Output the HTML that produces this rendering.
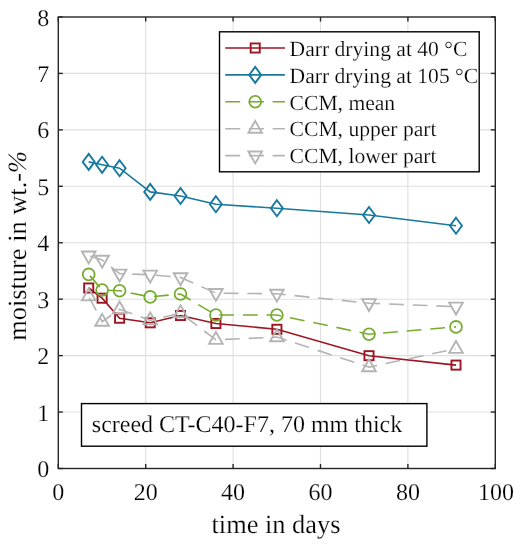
<!DOCTYPE html>
<html><head><meta charset="utf-8"><style>
html,body{margin:0;padding:0;background:#fff;}
svg{display:block;text-rendering:geometricPrecision;will-change:transform;}
.t{font-family:"Liberation Serif",serif;font-size:24px;fill:#000;stroke:#fff;stroke-width:0.2px;}
.l{font-family:"Liberation Serif",serif;font-size:26.4px;fill:#000;stroke:#fff;stroke-width:0.2px;}
.g{font-family:"Liberation Serif",serif;font-size:21.6px;fill:#000;stroke:#fff;stroke-width:0.2px;}
</style></head><body>
<svg width="524" height="550" viewBox="0 0 524 550">
<rect x="0" y="0" width="524" height="550" fill="#fff"/>
<line x1="145.70" y1="17.0" x2="145.70" y2="468.5" stroke="#DFDFDF" stroke-width="1.1"/>
<line x1="233.10" y1="17.0" x2="233.10" y2="468.5" stroke="#DFDFDF" stroke-width="1.1"/>
<line x1="320.50" y1="17.0" x2="320.50" y2="468.5" stroke="#DFDFDF" stroke-width="1.1"/>
<line x1="407.90" y1="17.0" x2="407.90" y2="468.5" stroke="#DFDFDF" stroke-width="1.1"/>
<line x1="58.3" y1="412.06" x2="495.3" y2="412.06" stroke="#DFDFDF" stroke-width="1.1"/>
<line x1="58.3" y1="355.62" x2="495.3" y2="355.62" stroke="#DFDFDF" stroke-width="1.1"/>
<line x1="58.3" y1="299.18" x2="495.3" y2="299.18" stroke="#DFDFDF" stroke-width="1.1"/>
<line x1="58.3" y1="242.74" x2="495.3" y2="242.74" stroke="#DFDFDF" stroke-width="1.1"/>
<line x1="58.3" y1="186.30" x2="495.3" y2="186.30" stroke="#DFDFDF" stroke-width="1.1"/>
<line x1="58.3" y1="129.86" x2="495.3" y2="129.86" stroke="#DFDFDF" stroke-width="1.1"/>
<line x1="58.3" y1="73.42" x2="495.3" y2="73.42" stroke="#DFDFDF" stroke-width="1.1"/>
<polyline points="88.70,288.00 102.10,298.20 119.60,318.20 150.20,322.80 180.50,315.50 215.90,323.50 276.90,329.30 369.00,355.70 456.00,365.10" fill="none" stroke="#9C1522" stroke-width="1.6"/>
<rect x="84.15" y="283.45" width="9.1" height="9.1" fill="none" stroke="#9C1522" stroke-width="1.9"/>
<rect x="97.55" y="293.65" width="9.1" height="9.1" fill="none" stroke="#9C1522" stroke-width="1.9"/>
<rect x="115.05" y="313.65" width="9.1" height="9.1" fill="none" stroke="#9C1522" stroke-width="1.9"/>
<rect x="145.65" y="318.25" width="9.1" height="9.1" fill="none" stroke="#9C1522" stroke-width="1.9"/>
<rect x="175.95" y="310.95" width="9.1" height="9.1" fill="none" stroke="#9C1522" stroke-width="1.9"/>
<rect x="211.35" y="318.95" width="9.1" height="9.1" fill="none" stroke="#9C1522" stroke-width="1.9"/>
<rect x="272.35" y="324.75" width="9.1" height="9.1" fill="none" stroke="#9C1522" stroke-width="1.9"/>
<rect x="364.45" y="351.15" width="9.1" height="9.1" fill="none" stroke="#9C1522" stroke-width="1.9"/>
<rect x="451.45" y="360.55" width="9.1" height="9.1" fill="none" stroke="#9C1522" stroke-width="1.9"/>
<polyline points="88.70,161.90 102.10,164.80 119.60,168.20 150.20,191.90 180.50,196.00 215.90,204.20 276.90,208.20 369.00,215.00 456.00,225.70" fill="none" stroke="#18789F" stroke-width="1.6"/>
<path d="M88.70,153.90L94.70,161.90L88.70,169.90L82.70,161.90Z" fill="none" stroke="#18789F" stroke-width="1.9"/>
<path d="M102.10,156.80L108.10,164.80L102.10,172.80L96.10,164.80Z" fill="none" stroke="#18789F" stroke-width="1.9"/>
<path d="M119.60,160.20L125.60,168.20L119.60,176.20L113.60,168.20Z" fill="none" stroke="#18789F" stroke-width="1.9"/>
<path d="M150.20,183.90L156.20,191.90L150.20,199.90L144.20,191.90Z" fill="none" stroke="#18789F" stroke-width="1.9"/>
<path d="M180.50,188.00L186.50,196.00L180.50,204.00L174.50,196.00Z" fill="none" stroke="#18789F" stroke-width="1.9"/>
<path d="M215.90,196.20L221.90,204.20L215.90,212.20L209.90,204.20Z" fill="none" stroke="#18789F" stroke-width="1.9"/>
<path d="M276.90,200.20L282.90,208.20L276.90,216.20L270.90,208.20Z" fill="none" stroke="#18789F" stroke-width="1.9"/>
<path d="M369.00,207.00L375.00,215.00L369.00,223.00L363.00,215.00Z" fill="none" stroke="#18789F" stroke-width="1.9"/>
<path d="M456.00,217.70L462.00,225.70L456.00,233.70L450.00,225.70Z" fill="none" stroke="#18789F" stroke-width="1.9"/>
<polyline points="88.70,274.40 102.10,290.00 119.60,290.80 150.20,296.90 180.50,294.00 215.90,315.00 276.90,315.00 369.00,334.20 456.00,326.90" fill="none" stroke="#77AC30" stroke-width="1.6" stroke-dasharray="14.8 8.9" stroke-dashoffset="21.73"/>
<circle cx="88.70" cy="274.40" r="5.9" fill="none" stroke="#77AC30" stroke-width="1.8"/>
<circle cx="102.10" cy="290.00" r="5.9" fill="none" stroke="#77AC30" stroke-width="1.8"/>
<circle cx="119.60" cy="290.80" r="5.9" fill="none" stroke="#77AC30" stroke-width="1.8"/>
<circle cx="150.20" cy="296.90" r="5.9" fill="none" stroke="#77AC30" stroke-width="1.8"/>
<circle cx="180.50" cy="294.00" r="5.9" fill="none" stroke="#77AC30" stroke-width="1.8"/>
<circle cx="215.90" cy="315.00" r="5.9" fill="none" stroke="#77AC30" stroke-width="1.8"/>
<circle cx="276.90" cy="315.00" r="5.9" fill="none" stroke="#77AC30" stroke-width="1.8"/>
<circle cx="369.00" cy="334.20" r="5.9" fill="none" stroke="#77AC30" stroke-width="1.8"/>
<circle cx="456.00" cy="326.90" r="5.9" fill="none" stroke="#77AC30" stroke-width="1.8"/>
<polyline points="88.70,296.30 102.10,321.70 119.60,309.30 150.20,320.30 180.50,313.10 215.90,339.80 276.90,337.10 369.00,367.10 456.00,348.80" fill="none" stroke="#B4B4B4" stroke-width="1.6" stroke-dasharray="14.8 8.9" stroke-dashoffset="22.33"/>
<path d="M88.70,288.50L95.50,300.40L81.90,300.40Z" fill="none" stroke="#B4B4B4" stroke-width="1.9" stroke-linejoin="miter"/>
<path d="M102.10,313.90L108.90,325.80L95.30,325.80Z" fill="none" stroke="#B4B4B4" stroke-width="1.9" stroke-linejoin="miter"/>
<path d="M119.60,301.50L126.40,313.40L112.80,313.40Z" fill="none" stroke="#B4B4B4" stroke-width="1.9" stroke-linejoin="miter"/>
<path d="M150.20,312.50L157.00,324.40L143.40,324.40Z" fill="none" stroke="#B4B4B4" stroke-width="1.9" stroke-linejoin="miter"/>
<path d="M180.50,305.30L187.30,317.20L173.70,317.20Z" fill="none" stroke="#B4B4B4" stroke-width="1.9" stroke-linejoin="miter"/>
<path d="M215.90,332.00L222.70,343.90L209.10,343.90Z" fill="none" stroke="#B4B4B4" stroke-width="1.9" stroke-linejoin="miter"/>
<path d="M276.90,329.30L283.70,341.20L270.10,341.20Z" fill="none" stroke="#B4B4B4" stroke-width="1.9" stroke-linejoin="miter"/>
<path d="M369.00,359.30L375.80,371.20L362.20,371.20Z" fill="none" stroke="#B4B4B4" stroke-width="1.9" stroke-linejoin="miter"/>
<path d="M456.00,341.00L462.80,352.90L449.20,352.90Z" fill="none" stroke="#B4B4B4" stroke-width="1.9" stroke-linejoin="miter"/>
<polyline points="88.70,255.60 102.10,259.90 119.60,273.70 150.20,274.70 180.50,277.40 215.90,293.10 276.90,293.80 369.00,303.20 456.00,306.70" fill="none" stroke="#B4B4B4" stroke-width="1.6" stroke-dasharray="14.8 8.9" stroke-dashoffset="22.08"/>
<path d="M88.70,263.40L95.50,251.50L81.90,251.50Z" fill="none" stroke="#B4B4B4" stroke-width="1.9" stroke-linejoin="miter"/>
<path d="M102.10,267.70L108.90,255.80L95.30,255.80Z" fill="none" stroke="#B4B4B4" stroke-width="1.9" stroke-linejoin="miter"/>
<path d="M119.60,281.50L126.40,269.60L112.80,269.60Z" fill="none" stroke="#B4B4B4" stroke-width="1.9" stroke-linejoin="miter"/>
<path d="M150.20,282.50L157.00,270.60L143.40,270.60Z" fill="none" stroke="#B4B4B4" stroke-width="1.9" stroke-linejoin="miter"/>
<path d="M180.50,285.20L187.30,273.30L173.70,273.30Z" fill="none" stroke="#B4B4B4" stroke-width="1.9" stroke-linejoin="miter"/>
<path d="M215.90,300.90L222.70,289.00L209.10,289.00Z" fill="none" stroke="#B4B4B4" stroke-width="1.9" stroke-linejoin="miter"/>
<path d="M276.90,301.60L283.70,289.70L270.10,289.70Z" fill="none" stroke="#B4B4B4" stroke-width="1.9" stroke-linejoin="miter"/>
<path d="M369.00,311.00L375.80,299.10L362.20,299.10Z" fill="none" stroke="#B4B4B4" stroke-width="1.9" stroke-linejoin="miter"/>
<path d="M456.00,314.50L462.80,302.60L449.20,302.60Z" fill="none" stroke="#B4B4B4" stroke-width="1.9" stroke-linejoin="miter"/>
<rect x="58.3" y="17.0" width="437.00" height="451.50" fill="none" stroke="#262626" stroke-width="1.4"/>
<line x1="58.30" y1="468.5" x2="58.30" y2="464.0" stroke="#262626" stroke-width="1.4"/>
<line x1="58.30" y1="17.0" x2="58.30" y2="21.5" stroke="#262626" stroke-width="1.4"/>
<text x="58.30" y="500.3" text-anchor="middle" class="t">0</text>
<line x1="145.70" y1="468.5" x2="145.70" y2="464.0" stroke="#262626" stroke-width="1.4"/>
<line x1="145.70" y1="17.0" x2="145.70" y2="21.5" stroke="#262626" stroke-width="1.4"/>
<text x="145.70" y="500.3" text-anchor="middle" class="t">20</text>
<line x1="233.10" y1="468.5" x2="233.10" y2="464.0" stroke="#262626" stroke-width="1.4"/>
<line x1="233.10" y1="17.0" x2="233.10" y2="21.5" stroke="#262626" stroke-width="1.4"/>
<text x="233.10" y="500.3" text-anchor="middle" class="t">40</text>
<line x1="320.50" y1="468.5" x2="320.50" y2="464.0" stroke="#262626" stroke-width="1.4"/>
<line x1="320.50" y1="17.0" x2="320.50" y2="21.5" stroke="#262626" stroke-width="1.4"/>
<text x="320.50" y="500.3" text-anchor="middle" class="t">60</text>
<line x1="407.90" y1="468.5" x2="407.90" y2="464.0" stroke="#262626" stroke-width="1.4"/>
<line x1="407.90" y1="17.0" x2="407.90" y2="21.5" stroke="#262626" stroke-width="1.4"/>
<text x="407.90" y="500.3" text-anchor="middle" class="t">80</text>
<line x1="495.30" y1="468.5" x2="495.30" y2="464.0" stroke="#262626" stroke-width="1.4"/>
<line x1="495.30" y1="17.0" x2="495.30" y2="21.5" stroke="#262626" stroke-width="1.4"/>
<text x="496.10" y="500.3" text-anchor="middle" class="t">100</text>
<line x1="58.3" y1="468.50" x2="62.8" y2="468.50" stroke="#262626" stroke-width="1.4"/>
<line x1="495.3" y1="468.50" x2="490.8" y2="468.50" stroke="#262626" stroke-width="1.4"/>
<text x="49.2" y="477.10" text-anchor="end" class="t">0</text>
<line x1="58.3" y1="412.06" x2="62.8" y2="412.06" stroke="#262626" stroke-width="1.4"/>
<line x1="495.3" y1="412.06" x2="490.8" y2="412.06" stroke="#262626" stroke-width="1.4"/>
<text x="49.2" y="420.66" text-anchor="end" class="t">1</text>
<line x1="58.3" y1="355.62" x2="62.8" y2="355.62" stroke="#262626" stroke-width="1.4"/>
<line x1="495.3" y1="355.62" x2="490.8" y2="355.62" stroke="#262626" stroke-width="1.4"/>
<text x="49.2" y="364.22" text-anchor="end" class="t">2</text>
<line x1="58.3" y1="299.18" x2="62.8" y2="299.18" stroke="#262626" stroke-width="1.4"/>
<line x1="495.3" y1="299.18" x2="490.8" y2="299.18" stroke="#262626" stroke-width="1.4"/>
<text x="49.2" y="307.78" text-anchor="end" class="t">3</text>
<line x1="58.3" y1="242.74" x2="62.8" y2="242.74" stroke="#262626" stroke-width="1.4"/>
<line x1="495.3" y1="242.74" x2="490.8" y2="242.74" stroke="#262626" stroke-width="1.4"/>
<text x="49.2" y="251.34" text-anchor="end" class="t">4</text>
<line x1="58.3" y1="186.30" x2="62.8" y2="186.30" stroke="#262626" stroke-width="1.4"/>
<line x1="495.3" y1="186.30" x2="490.8" y2="186.30" stroke="#262626" stroke-width="1.4"/>
<text x="49.2" y="194.90" text-anchor="end" class="t">5</text>
<line x1="58.3" y1="129.86" x2="62.8" y2="129.86" stroke="#262626" stroke-width="1.4"/>
<line x1="495.3" y1="129.86" x2="490.8" y2="129.86" stroke="#262626" stroke-width="1.4"/>
<text x="49.2" y="138.46" text-anchor="end" class="t">6</text>
<line x1="58.3" y1="73.42" x2="62.8" y2="73.42" stroke="#262626" stroke-width="1.4"/>
<line x1="495.3" y1="73.42" x2="490.8" y2="73.42" stroke="#262626" stroke-width="1.4"/>
<text x="49.2" y="82.02" text-anchor="end" class="t">7</text>
<line x1="58.3" y1="16.98" x2="62.8" y2="16.98" stroke="#262626" stroke-width="1.4"/>
<line x1="495.3" y1="16.98" x2="490.8" y2="16.98" stroke="#262626" stroke-width="1.4"/>
<text x="49.2" y="25.58" text-anchor="end" class="t">8</text>
<text x="276.0" y="532.8" text-anchor="middle" class="l">time in days</text>
<text transform="translate(26.2,245.9) rotate(-90)" x="0" y="0" text-anchor="middle" class="l">moisture in wt.-<tspan font-style="italic">%</tspan></text>
<rect x="81.5" y="403.6" width="345.4" height="42.6" fill="#fff" stroke="#000" stroke-width="1.4"/>
<text x="91.8" y="432.2" class="t">screed CT-C40-F7, 70 mm thick</text>
<rect x="219.5" y="31.8" width="259.7" height="140" fill="#fff" stroke="#000" stroke-width="1.4"/>
<line x1="225.2" y1="48.0" x2="284.9" y2="48.0" stroke="#9C1522" stroke-width="1.6"/>
<rect x="250.65" y="43.45" width="9.1" height="9.1" fill="none" stroke="#9C1522" stroke-width="1.9"/>
<text x="289.6" y="55.70" class="g">Darr drying at 40 °C</text>
<line x1="225.2" y1="74.9" x2="284.9" y2="74.9" stroke="#18789F" stroke-width="1.6"/>
<path d="M255.20,66.90L261.20,74.90L255.20,82.90L249.20,74.90Z" fill="none" stroke="#18789F" stroke-width="1.9"/>
<text x="289.6" y="82.60" class="g">Darr drying at 105 °C</text>
<line x1="225.2" y1="101.8" x2="284.9" y2="101.8" stroke="#77AC30" stroke-width="1.6" stroke-dasharray="15 8.7"/>
<circle cx="255.20" cy="101.80" r="5.9" fill="none" stroke="#77AC30" stroke-width="1.8"/>
<text x="289.6" y="109.50" class="g">CCM, mean</text>
<line x1="225.2" y1="128.7" x2="284.9" y2="128.7" stroke="#B4B4B4" stroke-width="1.6" stroke-dasharray="15 8.7"/>
<path d="M255.20,120.90L262.00,132.80L248.40,132.80Z" fill="none" stroke="#B4B4B4" stroke-width="1.9" stroke-linejoin="miter"/>
<text x="289.6" y="136.40" class="g">CCM, upper part</text>
<line x1="225.2" y1="155.6" x2="284.9" y2="155.6" stroke="#B4B4B4" stroke-width="1.6" stroke-dasharray="15 8.7"/>
<path d="M255.20,163.40L262.00,151.50L248.40,151.50Z" fill="none" stroke="#B4B4B4" stroke-width="1.9" stroke-linejoin="miter"/>
<text x="289.6" y="163.30" class="g">CCM, lower part</text>
</svg>
</body></html>
